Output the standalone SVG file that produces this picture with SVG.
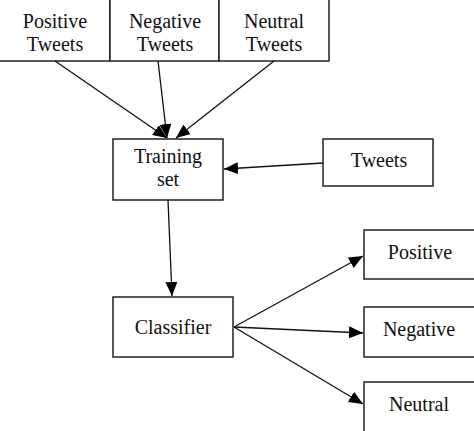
<svg xmlns="http://www.w3.org/2000/svg" width="474" height="431" viewBox="0 0 474 431">
<style>
rect{fill:#fff;stroke:#222;stroke-width:1.5}
text{font-family:"Liberation Serif","Times New Roman",serif;font-size:20px;fill:#111;text-anchor:middle}
.c line{stroke:#111;stroke-width:1.3;marker-end:url(#a)}
</style>
<defs><marker id="a" viewBox="0 0 14 12" refX="14" refY="6" markerWidth="14" markerHeight="12" markerUnits="userSpaceOnUse" orient="auto"><path d="M0,0L14,6L0,12z" fill="#000"/></marker></defs>
<rect x="0" y="0" width="474" height="431" style="fill:#fff;stroke:none"/>
<g id="pos-tweets"><rect x="-2" y="-2" width="112" height="63"/><text x="55" y="28">Positive</text><text x="55" y="51">Tweets</text></g>
<g id="neg-tweets"><rect x="110" y="-2" width="109" height="63"/><text x="165" y="28">Negative</text><text x="165" y="51">Tweets</text></g>
<g id="neu-tweets"><rect x="219" y="-2" width="110" height="63"/><text x="274" y="28">Neutral</text><text x="274" y="51">Tweets</text></g>
<g id="training"><rect x="113" y="139" width="110" height="61"/><text x="168" y="163">Training</text><text x="168" y="186">set</text></g>
<g id="tweets"><rect x="323" y="139" width="110" height="47"/><text x="379" y="167">Tweets</text></g>
<g id="classifier"><rect x="113" y="297" width="120" height="60"/><text x="173" y="334">Classifier</text></g>
<g id="positive"><rect x="364" y="230" width="112" height="49"/><text x="420" y="259">Positive</text></g>
<g id="negative"><rect x="364" y="307" width="112" height="50"/><text x="419" y="336">Negative</text></g>
<g id="neutral"><rect x="364" y="382" width="112" height="52"/><text x="419" y="411">Neutral</text></g>
<g class="c">
<line x1="55" y1="61" x2="167" y2="138"/>
<line x1="158" y1="61" x2="167" y2="138"/>
<line x1="274" y1="61" x2="176" y2="138"/>
<line x1="323" y1="163" x2="224" y2="169"/>
<line x1="168" y1="200" x2="172" y2="296"/>
<line x1="234" y1="327" x2="363" y2="256"/>
<line x1="234" y1="327" x2="363" y2="333"/>
<line x1="234" y1="327" x2="363" y2="404"/>
</g>
</svg>
